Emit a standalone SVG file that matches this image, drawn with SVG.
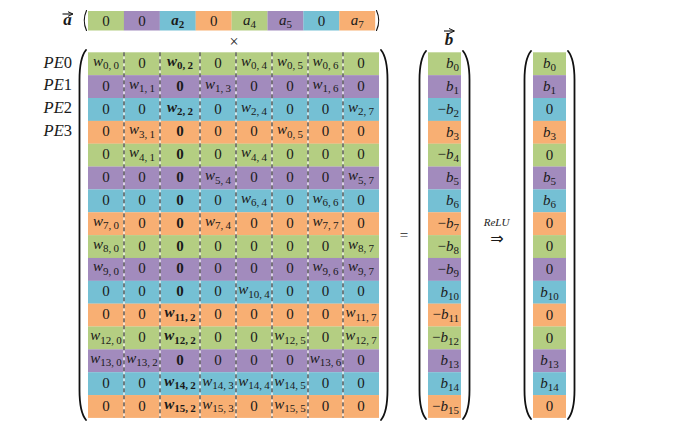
<svg xmlns="http://www.w3.org/2000/svg" width="680" height="433" viewBox="0 0 680 433">
<style>
.g{fill:#B4CE82}.p{fill:#A28BBD}.c{fill:#75C0D4}.o{fill:#F8AF73}
text{font-family:"Liberation Serif","DejaVu Serif",serif;fill:#1a1a1a;font-size:15px}
.m text{text-anchor:middle}
.r text{text-anchor:end}
.i{font-style:italic}
.bd{font-weight:bold}
.s{font-size:11px}
.lbl{font-size:17px}
.pe{font-size:16.5px}
.par{fill:none;stroke:#111;stroke-width:1.8;stroke-linecap:round}
.sp{fill:none;stroke:#111;stroke-width:1.1;stroke-linecap:round}
.vec{fill:none;stroke:#111;stroke-width:1.1}
.wl{stroke:#fff;stroke-width:1.2}
.dl{stroke:#111;stroke-width:1;stroke-dasharray:4 3}
</style>
<defs>
  <marker id="ah" viewBox="0 0 6 6" refX="5" refY="3" markerWidth="6" markerHeight="6" markerUnits="userSpaceOnUse" orient="auto">
    <path d="M0,0.5 L5.5,3 L0,5.5" fill="none" stroke="#111" stroke-width="1"/>
  </marker>
</defs>
<rect width="680" height="433" fill="#fff"/>

<!-- vector a -->
<g id="vec-a" class="m">
  <text class="i bd lbl" x="67.5" y="25">a</text>
  <path class="vec" d="M62.5,14 H72.5" marker-end="url(#ah)"/>
  <path class="sp" d="M86.5,10.5 Q82,20.5 86.5,30.5"/>
  <path class="sp" d="M376.5,10.5 Q381,20.5 376.5,30.5"/>
  <rect class="g" x="88" y="11" width="36" height="19.5"/>
  <rect class="p" x="123.9" y="11" width="36" height="19.5"/>
  <rect class="c" x="159.8" y="11" width="36" height="19.5"/>
  <rect class="o" x="195.7" y="11" width="36" height="19.5"/>
  <rect class="g" x="231.6" y="11" width="36" height="19.5"/>
  <rect class="p" x="267.5" y="11" width="36" height="19.5"/>
  <rect class="c" x="303.4" y="11" width="36" height="19.5"/>
  <rect class="o" x="339.3" y="11" width="35.9" height="19.5"/>
  <text x="106" y="26">0</text>
  <text x="141.9" y="26">0</text>
  <text class="bd" x="177.8" y="25"><tspan class="i">a</tspan><tspan class="s" dy="3">2</tspan></text>
  <text x="213.7" y="26">0</text>
  <text x="249.6" y="25"><tspan class="i">a</tspan><tspan class="s" dy="3">4</tspan></text>
  <text x="285.5" y="25"><tspan class="i">a</tspan><tspan class="s" dy="3">5</tspan></text>
  <text x="321.4" y="26">0</text>
  <text x="357.3" y="25"><tspan class="i">a</tspan><tspan class="s" dy="3">7</tspan></text>
  <text x="234" y="46.5" style="font-size:16px">×</text>
</g>

<!-- PE labels -->
<g id="pe-labels" class="r">
  <text class="i pe" x="72" y="67.5">PE<tspan font-style="normal">0</tspan></text>
  <text class="i pe" x="72" y="90.4">PE<tspan font-style="normal">1</tspan></text>
  <text class="i pe" x="72" y="113.2">PE<tspan font-style="normal">2</tspan></text>
  <text class="i pe" x="72" y="136.1">PE<tspan font-style="normal">3</tspan></text>
</g>

<!-- matrix W -->
<g id="matrix-w" class="m">
  <g id="row0" transform="translate(0,52.3)"><rect class="g" x="88" width="291" height="22.95"/>
    <text x="106" y="13.5"><tspan class="i">w</tspan><tspan class="s" dy="3.5">0,&#8201;0</tspan></text>
    <text x="142" y="15.5">0</text>
    <text class="bd" x="180" y="13.5"><tspan class="i">w</tspan><tspan class="s" dy="3.5">0,&#8201;2</tspan></text>
    <text x="218" y="15.5">0</text>
    <text x="254" y="13.5"><tspan class="i">w</tspan><tspan class="s" dy="3.5">0,&#8201;4</tspan></text>
    <text x="290" y="13.5"><tspan class="i">w</tspan><tspan class="s" dy="3.5">0,&#8201;5</tspan></text>
    <text x="325.5" y="13.5"><tspan class="i">w</tspan><tspan class="s" dy="3.5">0,&#8201;6</tspan></text>
    <text x="361" y="15.5">0</text>
  </g>
  <g id="row1" transform="translate(0,75.15)"><rect class="p" x="88" width="291" height="22.95"/>
    <text x="106" y="15.5">0</text>
    <text x="142" y="13.5"><tspan class="i">w</tspan><tspan class="s" dy="3.5">1,&#8201;1</tspan></text>
    <text class="bd" x="180" y="15.5">0</text>
    <text x="218" y="13.5"><tspan class="i">w</tspan><tspan class="s" dy="3.5">1,&#8201;3</tspan></text>
    <text x="254" y="15.5">0</text>
    <text x="290" y="15.5">0</text>
    <text x="325.5" y="13.5"><tspan class="i">w</tspan><tspan class="s" dy="3.5">1,&#8201;6</tspan></text>
    <text x="361" y="15.5">0</text>
  </g>
  <g id="row2" transform="translate(0,98)"><rect class="c" x="88" width="291" height="22.95"/>
    <text x="106" y="15.5">0</text>
    <text x="142" y="15.5">0</text>
    <text class="bd" x="180" y="13.5"><tspan class="i">w</tspan><tspan class="s" dy="3.5">2,&#8201;2</tspan></text>
    <text x="218" y="15.5">0</text>
    <text x="254" y="13.5"><tspan class="i">w</tspan><tspan class="s" dy="3.5">2,&#8201;4</tspan></text>
    <text x="290" y="15.5">0</text>
    <text x="325.5" y="15.5">0</text>
    <text x="361" y="13.5"><tspan class="i">w</tspan><tspan class="s" dy="3.5">2,&#8201;7</tspan></text>
  </g>
  <g id="row3" transform="translate(0,120.85)"><rect class="o" x="88" width="291" height="22.95"/>
    <text x="106" y="15.5">0</text>
    <text x="142" y="13.5"><tspan class="i">w</tspan><tspan class="s" dy="3.5">3,&#8201;1</tspan></text>
    <text class="bd" x="180" y="15.5">0</text>
    <text x="218" y="15.5">0</text>
    <text x="254" y="15.5">0</text>
    <text x="290" y="13.5"><tspan class="i">w</tspan><tspan class="s" dy="3.5">0,&#8201;5</tspan></text>
    <text x="325.5" y="15.5">0</text>
    <text x="361" y="15.5">0</text>
  </g>
  <g id="row4" transform="translate(0,143.7)"><rect class="g" x="88" width="291" height="22.95"/>
    <text x="106" y="15.5">0</text>
    <text x="142" y="13.5"><tspan class="i">w</tspan><tspan class="s" dy="3.5">4,&#8201;1</tspan></text>
    <text class="bd" x="180" y="15.5">0</text>
    <text x="218" y="15.5">0</text>
    <text x="254" y="13.5"><tspan class="i">w</tspan><tspan class="s" dy="3.5">4,&#8201;4</tspan></text>
    <text x="290" y="15.5">0</text>
    <text x="325.5" y="15.5">0</text>
    <text x="361" y="15.5">0</text>
  </g>
  <g id="row5" transform="translate(0,166.55)"><rect class="p" x="88" width="291" height="22.95"/>
    <text x="106" y="15.5">0</text>
    <text x="142" y="15.5">0</text>
    <text class="bd" x="180" y="15.5">0</text>
    <text x="218" y="13.5"><tspan class="i">w</tspan><tspan class="s" dy="3.5">5,&#8201;4</tspan></text>
    <text x="254" y="15.5">0</text>
    <text x="290" y="15.5">0</text>
    <text x="325.5" y="15.5">0</text>
    <text x="361" y="13.5"><tspan class="i">w</tspan><tspan class="s" dy="3.5">5,&#8201;7</tspan></text>
  </g>
  <g id="row6" transform="translate(0,189.4)"><rect class="c" x="88" width="291" height="22.95"/>
    <text x="106" y="15.5">0</text>
    <text x="142" y="15.5">0</text>
    <text class="bd" x="180" y="15.5">0</text>
    <text x="218" y="15.5">0</text>
    <text x="254" y="13.5"><tspan class="i">w</tspan><tspan class="s" dy="3.5">6,&#8201;4</tspan></text>
    <text x="290" y="15.5">0</text>
    <text x="325.5" y="13.5"><tspan class="i">w</tspan><tspan class="s" dy="3.5">6,&#8201;6</tspan></text>
    <text x="361" y="15.5">0</text>
  </g>
  <g id="row7" transform="translate(0,212.25)"><rect class="o" x="88" width="291" height="22.95"/>
    <text x="106" y="13.5"><tspan class="i">w</tspan><tspan class="s" dy="3.5">7,&#8201;0</tspan></text>
    <text x="142" y="15.5">0</text>
    <text class="bd" x="180" y="15.5">0</text>
    <text x="218" y="13.5"><tspan class="i">w</tspan><tspan class="s" dy="3.5">7,&#8201;4</tspan></text>
    <text x="254" y="15.5">0</text>
    <text x="290" y="15.5">0</text>
    <text x="325.5" y="13.5"><tspan class="i">w</tspan><tspan class="s" dy="3.5">7,&#8201;7</tspan></text>
    <text x="361" y="15.5">0</text>
  </g>
  <g id="row8" transform="translate(0,235.1)"><rect class="g" x="88" width="291" height="22.95"/>
    <text x="106" y="13.5"><tspan class="i">w</tspan><tspan class="s" dy="3.5">8,&#8201;0</tspan></text>
    <text x="142" y="15.5">0</text>
    <text class="bd" x="180" y="15.5">0</text>
    <text x="218" y="15.5">0</text>
    <text x="254" y="15.5">0</text>
    <text x="290" y="15.5">0</text>
    <text x="325.5" y="15.5">0</text>
    <text x="361" y="13.5"><tspan class="i">w</tspan><tspan class="s" dy="3.5">8,&#8201;7</tspan></text>
  </g>
  <g id="row9" transform="translate(0,257.95)"><rect class="p" x="88" width="291" height="22.95"/>
    <text x="106" y="13.5"><tspan class="i">w</tspan><tspan class="s" dy="3.5">9,&#8201;0</tspan></text>
    <text x="142" y="15.5">0</text>
    <text class="bd" x="180" y="15.5">0</text>
    <text x="218" y="15.5">0</text>
    <text x="254" y="15.5">0</text>
    <text x="290" y="15.5">0</text>
    <text x="325.5" y="13.5"><tspan class="i">w</tspan><tspan class="s" dy="3.5">9,&#8201;6</tspan></text>
    <text x="361" y="13.5"><tspan class="i">w</tspan><tspan class="s" dy="3.5">9,&#8201;7</tspan></text>
  </g>
  <g id="row10" transform="translate(0,280.8)"><rect class="c" x="88" width="291" height="22.95"/>
    <text x="106" y="15.5">0</text>
    <text x="142" y="15.5">0</text>
    <text class="bd" x="180" y="15.5">0</text>
    <text x="218" y="15.5">0</text>
    <text x="254" y="13.5"><tspan class="i">w</tspan><tspan class="s" dy="3.5">10,&#8201;4</tspan></text>
    <text x="290" y="15.5">0</text>
    <text x="325.5" y="15.5">0</text>
    <text x="361" y="15.5">0</text>
  </g>
  <g id="row11" transform="translate(0,303.65)"><rect class="o" x="88" width="291" height="22.95"/>
    <text x="106" y="15.5">0</text>
    <text x="142" y="15.5">0</text>
    <text class="bd" x="180" y="13.5"><tspan class="i">w</tspan><tspan class="s" dy="3.5">11,&#8201;2</tspan></text>
    <text x="218" y="15.5">0</text>
    <text x="254" y="15.5">0</text>
    <text x="290" y="15.5">0</text>
    <text x="325.5" y="15.5">0</text>
    <text x="361" y="13.5"><tspan class="i">w</tspan><tspan class="s" dy="3.5">11,&#8201;7</tspan></text>
  </g>
  <g id="row12" transform="translate(0,326.5)"><rect class="g" x="88" width="291" height="22.95"/>
    <text x="106" y="13.5"><tspan class="i">w</tspan><tspan class="s" dy="3.5">12,&#8201;0</tspan></text>
    <text x="142" y="15.5">0</text>
    <text class="bd" x="180" y="13.5"><tspan class="i">w</tspan><tspan class="s" dy="3.5">12,&#8201;2</tspan></text>
    <text x="218" y="15.5">0</text>
    <text x="254" y="15.5">0</text>
    <text x="290" y="13.5"><tspan class="i">w</tspan><tspan class="s" dy="3.5">12,&#8201;5</tspan></text>
    <text x="325.5" y="15.5">0</text>
    <text x="361" y="13.5"><tspan class="i">w</tspan><tspan class="s" dy="3.5">12,&#8201;7</tspan></text>
  </g>
  <g id="row13" transform="translate(0,349.35)"><rect class="p" x="88" width="291" height="22.95"/>
    <text x="106" y="13.5"><tspan class="i">w</tspan><tspan class="s" dy="3.5">13,&#8201;0</tspan></text>
    <text x="142" y="13.5"><tspan class="i">w</tspan><tspan class="s" dy="3.5">13,&#8201;2</tspan></text>
    <text class="bd" x="180" y="15.5">0</text>
    <text x="218" y="15.5">0</text>
    <text x="254" y="15.5">0</text>
    <text x="290" y="15.5">0</text>
    <text x="325.5" y="13.5"><tspan class="i">w</tspan><tspan class="s" dy="3.5">13,&#8201;6</tspan></text>
    <text x="361" y="15.5">0</text>
  </g>
  <g id="row14" transform="translate(0,372.2)"><rect class="c" x="88" width="291" height="22.95"/>
    <text x="106" y="15.5">0</text>
    <text x="142" y="15.5">0</text>
    <text class="bd" x="180" y="13.5"><tspan class="i">w</tspan><tspan class="s" dy="3.5">14,&#8201;2</tspan></text>
    <text x="218" y="13.5"><tspan class="i">w</tspan><tspan class="s" dy="3.5">14,&#8201;3</tspan></text>
    <text x="254" y="13.5"><tspan class="i">w</tspan><tspan class="s" dy="3.5">14,&#8201;4</tspan></text>
    <text x="290" y="13.5"><tspan class="i">w</tspan><tspan class="s" dy="3.5">14,&#8201;5</tspan></text>
    <text x="325.5" y="15.5">0</text>
    <text x="361" y="15.5">0</text>
  </g>
  <g id="row15" transform="translate(0,395.05)"><rect class="o" x="88" width="291" height="22.85"/>
    <text x="106" y="15.5">0</text>
    <text x="142" y="15.5">0</text>
    <text class="bd" x="180" y="13.5"><tspan class="i">w</tspan><tspan class="s" dy="3.5">15,&#8201;2</tspan></text>
    <text x="218" y="13.5"><tspan class="i">w</tspan><tspan class="s" dy="3.5">15,&#8201;3</tspan></text>
    <text x="254" y="15.5">0</text>
    <text x="290" y="13.5"><tspan class="i">w</tspan><tspan class="s" dy="3.5">15,&#8201;5</tspan></text>
    <text x="325.5" y="15.5">0</text>
    <text x="361" y="15.5">0</text>
  </g>
  <g id="col-dividers">
    <path class="wl" d="M124,52.3V417.9M160,52.3V417.9M200,52.3V417.9M236,52.3V417.9M272,52.3V417.9M308,52.3V417.9M343,52.3V417.9"/>
    <path class="dl" d="M124,52.3V417.9M160,52.3V417.9M200,52.3V417.9M236,52.3V417.9M272,52.3V417.9M308,52.3V417.9M343,52.3V417.9"/>
  </g>
  <path class="par" d="M86,50 Q79.5,58 79.5,80 L79.5,390 Q79.5,412 86,420"/>
  <path class="par" d="M381,50 Q387.5,58 387.5,80 L387.5,390 Q387.5,412 381,420"/>
</g>

<g id="equals" class="m"><text x="404" y="240">=</text></g>

<!-- vector b -->
<g id="vec-b">
  <text class="i bd lbl" x="449" y="44.5" text-anchor="middle">b</text>
  <path class="vec" d="M444,31 H454" marker-end="url(#ah)"/>
  <rect class="g" x="428" y="52.3" width="33" height="22.95"/>
  <rect class="p" x="428" y="75.15" width="33" height="22.95"/>
  <rect class="c" x="428" y="98" width="33" height="22.95"/>
  <rect class="o" x="428" y="120.85" width="33" height="22.95"/>
  <rect class="g" x="428" y="143.7" width="33" height="22.95"/>
  <rect class="p" x="428" y="166.55" width="33" height="22.95"/>
  <rect class="c" x="428" y="189.4" width="33" height="22.95"/>
  <rect class="o" x="428" y="212.25" width="33" height="22.95"/>
  <rect class="g" x="428" y="235.1" width="33" height="22.95"/>
  <rect class="p" x="428" y="257.95" width="33" height="22.95"/>
  <rect class="c" x="428" y="280.8" width="33" height="22.95"/>
  <rect class="o" x="428" y="303.65" width="33" height="22.95"/>
  <rect class="g" x="428" y="326.5" width="33" height="22.95"/>
  <rect class="p" x="428" y="349.35" width="33" height="22.95"/>
  <rect class="c" x="428" y="372.2" width="33" height="22.95"/>
  <rect class="o" x="428" y="395.05" width="33" height="22.85"/>
  <g class="r">
    <text x="459" y="68"><tspan class="i">b</tspan><tspan class="s" dy="3">0</tspan></text>
    <text x="459" y="90.9"><tspan class="i">b</tspan><tspan class="s" dy="3">1</tspan></text>
    <text x="459" y="113.7">−<tspan class="i">b</tspan><tspan class="s" dy="3">2</tspan></text>
    <text x="459" y="136.6"><tspan class="i">b</tspan><tspan class="s" dy="3">3</tspan></text>
    <text x="459" y="159.4">−<tspan class="i">b</tspan><tspan class="s" dy="3">4</tspan></text>
    <text x="459" y="182.3"><tspan class="i">b</tspan><tspan class="s" dy="3">5</tspan></text>
    <text x="459" y="205.1"><tspan class="i">b</tspan><tspan class="s" dy="3">6</tspan></text>
    <text x="459" y="228">−<tspan class="i">b</tspan><tspan class="s" dy="3">7</tspan></text>
    <text x="459" y="250.8">−<tspan class="i">b</tspan><tspan class="s" dy="3">8</tspan></text>
    <text x="459" y="273.7">−<tspan class="i">b</tspan><tspan class="s" dy="3">9</tspan></text>
    <text x="459" y="296.5"><tspan class="i">b</tspan><tspan class="s" dy="3">10</tspan></text>
    <text x="459" y="319.4">−<tspan class="i">b</tspan><tspan class="s" dy="3">11</tspan></text>
    <text x="459" y="342.2">−<tspan class="i">b</tspan><tspan class="s" dy="3">12</tspan></text>
    <text x="459" y="365.1"><tspan class="i">b</tspan><tspan class="s" dy="3">13</tspan></text>
    <text x="459" y="387.9"><tspan class="i">b</tspan><tspan class="s" dy="3">14</tspan></text>
    <text x="459" y="410.8">−<tspan class="i">b</tspan><tspan class="s" dy="3">15</tspan></text>
  </g>
  <path class="par" d="M426,51 Q419.5,59 419.5,80 L419.5,390 Q419.5,411 426,419"/>
  <path class="par" d="M463,51 Q469.5,59 469.5,80 L469.5,390 Q469.5,411 463,419"/>
</g>

<g id="relu" class="m">
  <text class="i" x="496.5" y="226" style="font-size:11px">ReLU</text>
  <text x="497" y="243.5" style="font-size:16px;font-family:'DejaVu Sans',sans-serif">⇒</text>
</g>

<!-- output vector -->
<g id="vec-out">
  <rect class="g" x="533" y="52.3" width="33" height="22.95"/>
  <rect class="p" x="533" y="75.15" width="33" height="22.95"/>
  <rect class="c" x="533" y="98" width="33" height="22.95"/>
  <rect class="o" x="533" y="120.85" width="33" height="22.95"/>
  <rect class="g" x="533" y="143.7" width="33" height="22.95"/>
  <rect class="p" x="533" y="166.55" width="33" height="22.95"/>
  <rect class="c" x="533" y="189.4" width="33" height="22.95"/>
  <rect class="o" x="533" y="212.25" width="33" height="22.95"/>
  <rect class="g" x="533" y="235.1" width="33" height="22.95"/>
  <rect class="p" x="533" y="257.95" width="33" height="22.95"/>
  <rect class="c" x="533" y="280.8" width="33" height="22.95"/>
  <rect class="o" x="533" y="303.65" width="33" height="22.95"/>
  <rect class="g" x="533" y="326.5" width="33" height="22.95"/>
  <rect class="p" x="533" y="349.35" width="33" height="22.95"/>
  <rect class="c" x="533" y="372.2" width="33" height="22.95"/>
  <rect class="o" x="533" y="395.05" width="33" height="22.85"/>
  <g class="m">
    <text x="549.5" y="68"><tspan class="i">b</tspan><tspan class="s" dy="3">0</tspan></text>
    <text x="549.5" y="90.9"><tspan class="i">b</tspan><tspan class="s" dy="3">1</tspan></text>
    <text x="549.5" y="114">0</text>
    <text x="549.5" y="136.6"><tspan class="i">b</tspan><tspan class="s" dy="3">3</tspan></text>
    <text x="549.5" y="159.7">0</text>
    <text x="549.5" y="182.3"><tspan class="i">b</tspan><tspan class="s" dy="3">5</tspan></text>
    <text x="549.5" y="205.1"><tspan class="i">b</tspan><tspan class="s" dy="3">6</tspan></text>
    <text x="549.5" y="228.3">0</text>
    <text x="549.5" y="251.1">0</text>
    <text x="549.5" y="274">0</text>
    <text x="549.5" y="296.5"><tspan class="i">b</tspan><tspan class="s" dy="3">10</tspan></text>
    <text x="549.5" y="319.7">0</text>
    <text x="549.5" y="342.5">0</text>
    <text x="549.5" y="365.1"><tspan class="i">b</tspan><tspan class="s" dy="3">13</tspan></text>
    <text x="549.5" y="387.9"><tspan class="i">b</tspan><tspan class="s" dy="3">14</tspan></text>
    <text x="549.5" y="411.1">0</text>
  </g>
  <path class="par" d="M531,51 Q524.5,59 524.5,80 L524.5,390 Q524.5,411 531,419"/>
  <path class="par" d="M568,51 Q574.5,59 574.5,80 L574.5,390 Q574.5,411 568,419"/>
</g>
</svg>
